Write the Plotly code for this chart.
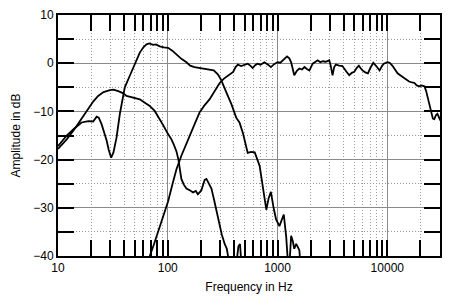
import plotly.graph_objects as go

# Curve A: woofer-like response (with dip near 30 Hz)
fa = [10, 12, 14, 16.4, 18.9, 20.9, 22.5, 23.5, 24.9, 26.5, 27.7, 29, 30.5, 32, 34.1, 36.6, 38.5, 40.6,
      45.3, 50, 55.6, 60, 64, 68, 73.5, 78, 84.5, 92, 100.6, 110, 120, 133, 148, 160, 175, 195, 215, 240,
      262, 286, 307, 341, 380, 420, 450, 485, 520, 535, 575, 620, 687, 740, 790, 830, 870, 920, 970, 1040,
      1090, 1140, 1200, 1240, 1290, 1330, 1380, 1420, 1480, 1580, 1620, 1700]
da = [-17.2, -15.0, -13.6, -12.3, -12.0, -12.1, -11.1, -11.3, -12.6, -14.5, -16.0, -18.0, -19.6, -18.5,
      -15.5, -10.5, -7.5, -5.0, -2.5, -0.4, 2.2, 3.3, 3.9, 4.1, 3.8, 3.9, 3.5, 3.3, 3.2, 2.6, 1.8, 0.9, 0.2,
      -0.5, -0.8, -1.0, -1.1, -1.3, -1.5, -2.3, -3.5, -6.0, -8.5, -11.3, -12.3, -14.6, -17.5, -18.6, -18.4,
      -18.5, -21.3, -26.0, -30.4, -28.0, -26.7, -30.0, -32.4, -33.8, -32.5, -31.4, -36.1, -41.0, -41.0,
      -35.8, -37.0, -38.5, -37.5, -38.8, -42.0, -45.0]

# Curve B: smooth low-frequency response
fb = [10, 12, 14, 16.4, 18.9, 21, 23.2, 26, 29.7, 32, 35.4, 39, 42.1, 50, 55.6, 61.8, 68, 76, 84, 90.5,
      100, 108, 114, 120, 125, 128, 133, 140, 148, 160, 170, 180, 188, 202, 210, 217, 225, 233, 250, 265,
      277, 297, 310, 330, 345, 360, 420, 440, 455, 470, 500]
db = [-17.8, -15.8, -13.8, -11.5, -9.2, -7.9, -6.8, -6.0, -5.6, -5.5, -5.8, -6.2, -6.8, -7.2, -7.5, -8.2,
      -8.8, -9.9, -11.5, -12.8, -14.6, -15.8, -17.0, -18.3, -20.0, -21.5, -24.0, -25.2, -26.0, -26.4, -26.8,
      -26.5, -27.2, -26.4, -25.0, -24.2, -24.0, -24.6, -26.0, -28.5, -30.7, -34.1, -35.5, -37.5, -38.5,
      -41.0, -42.0, -38.0, -37.5, -42.0, -46.0]

# Curve C: tweeter-like response
fc = [65, 68.6, 75, 84.5, 92, 100.6, 110, 120, 133, 148, 160, 176, 195, 215, 240, 265, 297, 325, 355, 394,
      415, 435, 466, 500, 535, 565, 593, 625, 656, 700, 760, 820, 870, 930, 1000, 1060, 1120, 1220, 1280,
      1330, 1380, 1420, 1500, 1580, 1670, 1760, 1850, 1950, 2090, 2200, 2320, 2450, 2580, 2750, 2960, 3050,
      3170, 3280, 3400, 3650, 3900, 4200, 4500, 4750, 5000, 5250, 5500, 5700, 5940, 6300, 6660, 7000, 7450,
      8000, 8500, 9000, 9300, 10000, 10500, 11100, 11800, 12400, 13300, 14300, 15800, 16800, 17700, 18500,
      19700, 20500, 21800, 22600, 23400, 24200, 25000, 26000, 26800, 27700, 28600, 29500, 30500]
dc = [-42, -40, -37.5, -34, -31.2, -28.7, -25.2, -22, -19.2, -16.6, -14.6, -12.6, -10.2, -8.8, -7.5, -6.0,
      -4.1, -3.2, -2.5, -1.8, -0.8, -0.3, -0.6, -0.3, -0.1, -0.5, -1.0, -0.4, -0.1, -0.3, 0.2, -0.3, -0.8,
      -0.2, 0.2, 0.1, 0.6, 1.4, 1.0, 0.2, -1.3, -2.5, -1.6, -1.1, -1.3, -0.8, -1.2, -1.5, -0.1, 0.3, 0.6,
      0.2, 0.4, 0.3, 0.6, -0.5, -2.5, -0.8, -0.3, -0.5, -0.6, -1.6, -2.5, -2.0, -1.8, -1.0, -0.5, -1.0, -1.5,
      -1.9, -2.1, -1.0, 0.1, -0.7, -1.5, -0.5, -0.1, 0.2, 0.1, -0.5, -1.3, -2.1, -2.6, -3.1, -3.8, -4.0,
      -4.1, -4.6, -4.8, -4.6, -4.8, -5.8, -7.2, -9.0, -10.5, -11.5, -11.6, -10.8, -10.5, -11.3, -11.9]

x_major = [10, 100, 1000, 10000]
x_major_text = ["10", "100", "1000", "10000"]
x_minor = [m * d for d in (10, 100, 1000) for m in range(2, 10)] + [20000]
y_major = [-40, -30, -20, -10, 0, 10]
y_minor = [-35, -25, -15, -5, 5]

fig = go.Figure()
for fx, dy in ((fa, da), (fb, db), (fc, dc)):
    fig.add_trace(go.Scatter(x=fx, y=dy, mode="lines",
                             line=dict(color="black", width=1.8), showlegend=False))

font = dict(family="Liberation Sans, Arial, sans-serif", size=12, color="black")
tick_common = dict(ticks="inside", ticklen=16, tickwidth=1.5, tickcolor="black")

fig.update_xaxes(type="log", range=[1, 4.48], tickmode="array", tickvals=x_major, ticktext=x_major_text,
                 showgrid=True, gridcolor="#8a8a8a", gridwidth=1, zeroline=False,
                 showline=True, linecolor="black", linewidth=2, mirror="ticks",
                 minor=dict(tickmode="array", tickvals=x_minor, showgrid=True, gridcolor="#9a9a9a",
                            griddash="1px,2px", gridwidth=1, **tick_common),
                 title=dict(text="Frequency in Hz", font=font, standoff=8),
                 tickfont=font, **tick_common)
fig.update_yaxes(range=[-40, 10], tickmode="array", tickvals=y_major,
                 showgrid=True, gridcolor="#8a8a8a", gridwidth=1, zeroline=False,
                 showline=True, linecolor="black", linewidth=2, mirror="ticks",
                 minor=dict(tickmode="array", tickvals=y_minor, showgrid=True, gridcolor="#9a9a9a",
                            griddash="1px,2px", gridwidth=1, **tick_common),
                 title=dict(text="Amplitude in dB", font=font, standoff=10),
                 tickfont=font, **tick_common)

fig.update_layout(width=450, height=305, margin=dict(l=58, r=9, t=8, b=49),
                  paper_bgcolor="white", plot_bgcolor="white", font=font)
fig.write_html("out.html")
